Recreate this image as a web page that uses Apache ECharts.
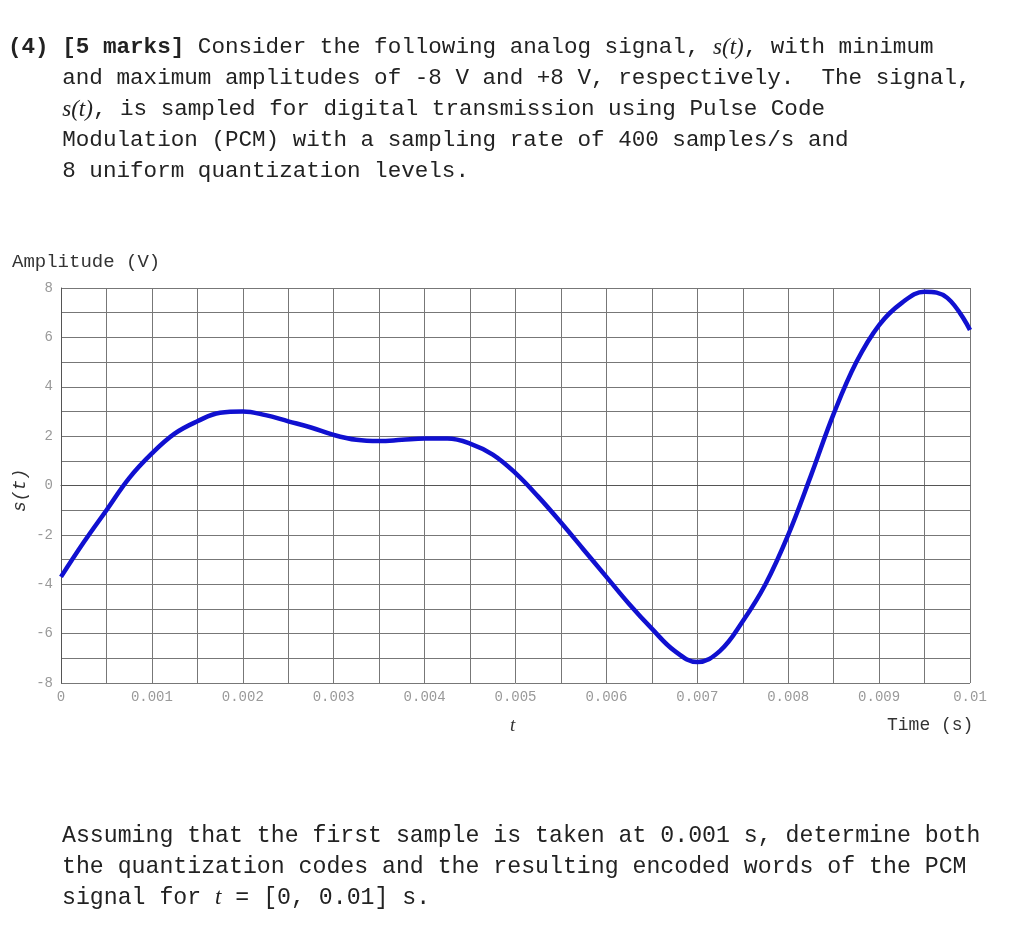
<!DOCTYPE html>
<html><head><meta charset="utf-8">
<script src="https://cdn.jsdelivr.net/npm/echarts@6/dist/echarts.min.js"></script>
<style>html,body{margin:0;padding:0;background:#fff}#c{width:1032px;height:946px}</style>
</head><body><div id="c"></div>
<script>
const times = [0,0.00025,0.0005,0.00075,0.001,0.00125,0.0015,0.00175,0.002,0.00225,0.0025,0.00275,0.003,0.00325,0.0035,0.00375,0.004,0.00425,0.0045,0.00475,0.005,0.00525,0.0055,0.00575,0.006,0.00625,0.0065,0.00675,0.007,0.00725,0.0075,0.00775,0.008,0.00825,0.0085,0.00875,0.009,0.00925,0.0095,0.00975,0.01];
const amplitude = [-3.7,-2.3,-1.0,0.3,1.3,2.1,2.6,2.95,3.0,2.85,2.6,2.35,2.05,1.85,1.8,1.85,1.9,1.9,1.7,1.25,0.5,-0.45,-1.5,-2.6,-3.7,-4.8,-5.8,-6.7,-7.15,-6.7,-5.5,-4.0,-2.0,0.4,2.9,5.0,6.5,7.4,7.85,7.6,6.3];
const yTicks = [-8,-6,-4,-2,0,2,4,6,8];
const xTicks = [0,0.001,0.002,0.003,0.004,0.005,0.006,0.007,0.008,0.009,0.01];
const questionLines = [
  "{b|(4) [5 marks]} Consider the following analog signal, {i|s(t)}, with minimum",
  "    and maximum amplitudes of -8 V and +8 V, respectively.  The signal,",
  "    {i|s(t)}, is sampled for digital transmission using Pulse Code",
  "    Modulation (PCM) with a sampling rate of 400 samples/s and",
  "    8 uniform quantization levels."
];
const footerLines = [
  "Assuming that the first sample is taken at 0.001 s, determine both",
  "the quantization codes and the resulting encoded words of the PCM",
  "signal for {i|t} = [0, 0.01] s."
];
const mono = "'Liberation Mono', 'DejaVu Sans Mono', monospace";
const chart = echarts.init(document.getElementById('c'));
const rich = {b:{fontFamily:mono,fontSize:22.6,fontWeight:'bold',fill:'#222'},
              i:{fontFamily:'Liberation Serif',fontStyle:'italic',fontSize:23,fill:'#222'}};
const g = [];
questionLines.forEach((s,i)=>g.push({type:'text',left:8,top:36+i*31,style:{text:s,fontFamily:mono,fontSize:22.6,fill:'#222',rich}}));
footerLines.forEach((s,i)=>g.push({type:'text',left:62,top:824+i*31,style:{text:s,fontFamily:mono,fontSize:23.2,fill:'#222',rich}}));
g.push({type:'text',left:12,top:252,style:{text:'Amplitude (V)',font:'19px '+mono,fill:'#333'}});
g.push({type:'text',left:887,top:716,style:{text:'Time (s)',font:'18px '+mono,fill:'#333'}});
g.push({type:'text',left:510,top:716,style:{text:'t',font:'italic 19px Liberation Serif',fill:'#333'}});
g.push({type:'text',x:11,y:512,rotation:Math.PI/2,style:{text:'s(t)',font:'italic 18px '+mono,fill:'#333'}});
const isTick=(v,arr)=>arr.some(t=>Math.abs(t-v)<1e-9);
chart.setOption({
  animation:false,
  graphic:g,
  grid:{left:61,right:62,top:288,bottom:263,containLabel:false},
  xAxis:{type:'value',min:0,max:0.01,interval:0.0005,
    axisLine:{show:true,lineStyle:{color:'#555'}},axisTick:{show:false},
    splitLine:{show:true,lineStyle:{color:'#777',width:1}},
    axisLabel:{color:'#999',fontFamily:mono,fontSize:14,margin:7,
      formatter:v=>isTick(v,xTicks)?(Math.abs(v)<1e-12?'0':(+v.toFixed(4)).toString()):''}},
  yAxis:{type:'value',min:-8,max:8,interval:1,
    axisLine:{show:true,lineStyle:{color:'#555'}},axisTick:{show:false},
    splitLine:{show:true,lineStyle:{color:'#777',width:1}},
    axisLabel:{color:'#999',fontFamily:mono,fontSize:14,margin:8,
      formatter:v=>isTick(v,yTicks)?String(v):''}},
  series:[{type:'line',smooth:0.4,symbol:'none',
    data:times.map((t,i)=>[t,amplitude[i]]),
    lineStyle:{color:'#1010d0',width:4.5}}]
});
</script></body></html>
